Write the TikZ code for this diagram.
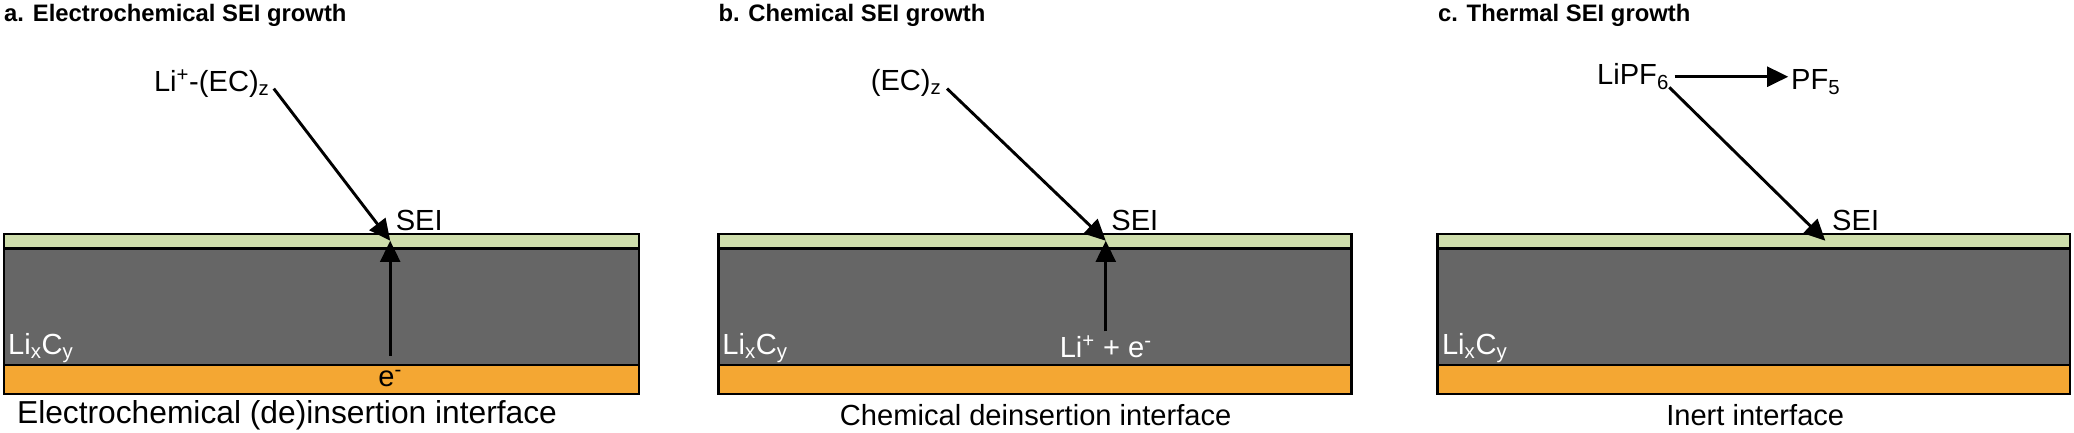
\documentclass[tikz,border=0pt]{standalone}
\usepackage{fontspec}
\setmainfont{Liberation Sans}
\usetikzlibrary{arrows.meta}
\definecolor{seig}{HTML}{CEDDAB}
\definecolor{bulk}{HTML}{666666}
\definecolor{cu}{HTML}{F4A733}
\tikzset{
 lbl/.style={font=\fontsize{22}{25}\selectfont, inner sep=0pt},
 ttl/.style={font=\bfseries\fontsize{18}{21}\selectfont, inner sep=0pt, anchor=west},
 arr/.style={line width=2.2pt, -{Triangle[length=16pt,width=15pt]}},
 frame/.style={draw=black, line width=2pt}
}
\begin{document}
\begin{tikzpicture}[x=1pt,y=-1pt]
\useasboundingbox (0,0) rectangle (1568,327);
\foreach \p/\xa/\xb in {a/3/483, b/543/1022, c/1087/1565}{
  \fill[bulk] (\xa,188) rectangle (\xb,276);
  \fill[seig] (\xa,177) rectangle (\xb,188);
  \fill[cu] (\xa,276) rectangle (\xb,298);
  \draw[frame] (\xa,177) rectangle (\xb,298);
  \draw[frame] (\xa,188) -- (\xb,188);
  \draw[frame] (\xa,276) -- (\xb,276);
  \node[lbl,white,anchor=west] (lc\p) at (\xa+3,263) {Li\textsubscript{x}C\textsubscript{y}};
}
% titles
\node[ttl] (ta) at (3,12) {a. Electrochemical SEI growth};
\node[ttl] (tb) at (543,12) {b. Chemical SEI growth};
\node[ttl] (tc) at (1087,12) {c. Thermal SEI growth};
\node[lbl,font=\fontsize{24}{27}\selectfont] (ba) at (217,314) {Electrochemical (de)insertion interface};
\node[lbl] (bb) at (783,314) {Chemical deinsertion interface};
\node[lbl] (bc) at (1327,314) {Inert interface};
% panel a
\node[lbl,anchor=east] (lia) at (204,63) {Li\textsuperscript{+}-(EC)\textsubscript{z}};
\coordinate (pa) at (295,182);
\node[lbl,anchor=west] (seia) at (299,167) {SEI};
\coordinate (ea) at (295,269);
\node[lbl] (el) at (295,286) {e\textsuperscript{-}};
\draw[arr] (lia.east) ++(3,4) coordinate (sa) -- (pa);
\draw[arr] (ea) -- (pa);
% panel b
\node[lbl,anchor=east] (ecb) at (712,63) {(EC)\textsubscript{z}};
\coordinate (pb) at (836,182);
\node[lbl,anchor=west] (seib) at (840,167) {SEI};
\node[lbl,white] (lie) at (836,262) {Li\textsuperscript{+} + e\textsuperscript{-}};
\draw[arr] (ecb.east) ++(4,4) coordinate (sb) -- (pb);
\draw[arr] (lie.north) ++(0,-3) coordinate (vb) -- (pb);
% panel c
\node[lbl,anchor=east] (lipf) at (1262,58) {LiPF\textsubscript{6}};
\node[lbl,anchor=west] (pf) at (1354,62) {PF\textsubscript{5}};
\coordinate (pc) at (1380,182);
\node[lbl,anchor=west] (seic) at (1385,167) {SEI};
\draw[arr] (1266,58) coordinate (hc) -- (1352,58) coordinate (he);
\draw[arr] (1262,66) coordinate (sc) -- (pc);
\end{tikzpicture}
\end{document}
